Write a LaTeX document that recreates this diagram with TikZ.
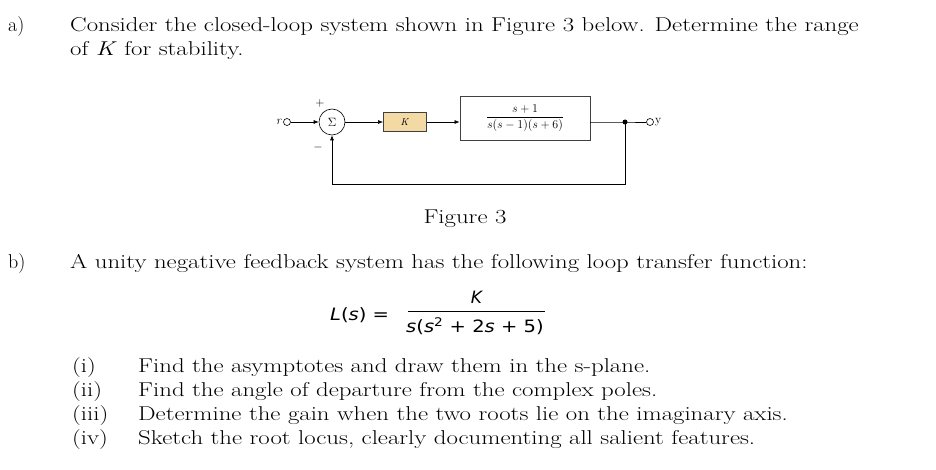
\documentclass[tikz,border=0pt]{standalone}
\usepackage{amsmath}
\usepackage{graphicx}
\usepackage{fontspec}
\newfontfamily\eqf{DejaVu Sans}
\usetikzlibrary{arrows.meta}
\definecolor{kfill}{HTML}{F3D9A4}
\newcommand{\wide}[1]{\scalebox{1.24}[1]{#1}}
\tikzset{
  txt/.style={anchor=base west,inner sep=0pt,font=\fontsize{20}{24}\selectfont},
  blk/.style={draw=black!75,line width=0.9pt},
  sig/.style={line width=0.6pt,-{Latex[length=5pt,width=4pt]}},
  ln/.style={line width=0.6pt},
  sm/.style={font=\fontsize{12}{14}\selectfont,inner sep=1pt}
}
\begin{document}
\begin{tikzpicture}[x=1pt,y=-1pt]
\useasboundingbox[fill=white] (0,0) rectangle (936,470);
\node[txt] (la) at (8,32) {a)};
\node[txt] (l1) at (70,32) {\wide{Consider the closed-loop system shown in Figure 3 below. Determine the range}};
\node[txt] (l2) at (70,56) {\wide{of \textit{K} for stability.}};
% block diagram
\node[draw,circle,inner sep=0pt,minimum size=7pt,ln] (r) at (287,122) {};
\node[sm,anchor=east] (rl) at (r.west) {\textit{r}};
\node[draw,circle,inner sep=0pt,minimum size=26pt,ln] (sum) at (332,122) {\large$\Sigma$};
\node[blk,fill=kfill,minimum width=43pt,minimum height=19pt,inner sep=0pt] (k) at (405,122) {\textit{K}};
\node[blk,minimum width=130pt,minimum height=44pt,inner sep=0pt] (g) at (525,118)
  {\fontsize{12}{14}\selectfont$\dfrac{s+1}{s(s-1)(s+6)}$};
\coordinate (j) at (625,122);
\fill (j) circle (2.5pt);
\node[draw,circle,inner sep=0pt,minimum size=7pt,ln] (y) at (650,122) {};
\node[sm,anchor=west] (yl) at (y.east) {y};
\node[sm] (plus) at (320,104) {$+$};
\node[sm] (minus) at (318,148) {$-$};
\draw[sig] (r) -- (sum);
\draw[sig] (sum) -- (k);
\draw[sig] (k) -- (g.west |- k);
\draw[ln] (g.east |- j) -- (j) -- (y);
\draw[sig] (j) -- (625,184) -| (sum.south);
\node[txt,anchor=base] (fig) at (465,224) {\wide{Figure 3}};
% part b
\node[txt] (lb) at (8,268) {b)};
\node[txt] (b1) at (70,268) {\wide{A unity negative feedback system has the following loop transfer function:}};
\node[font=\eqf\fontsize{17}{20}\selectfont,anchor=base west,inner sep=0pt] (ls) at (330,320) {\scalebox{1.15}[1]{\textit{L}(\textit{s}) =}};
\node[font=\eqf\fontsize{17}{20}\selectfont,inner sep=0pt] (num) at (477,297) {\textit{K}};
\node[font=\eqf\fontsize{17}{20}\selectfont,inner sep=0pt] (den) at (475,326) {\scalebox{1.15}[1]{\textit{s}(\textit{s}\textsuperscript{2} + 2\textit{s} + 5)}};
\draw[line width=0.7pt] (408,311) -- (545,311);
\node[txt] (i1) at (72,372) {\wide{(i)}};
\node[txt] (t1) at (138,372) {\wide{Find the asymptotes and draw them in the s-plane.}};
\node[txt] (i2) at (72,396) {\wide{(ii)}};
\node[txt] (t2) at (138,396) {\wide{Find the angle of departure from the complex poles.}};
\node[txt] (i3) at (72,420) {\wide{(iii)}};
\node[txt] (t3) at (138,420) {\wide{Determine the gain when the two roots lie on the imaginary axis.}};
\node[txt] (i4) at (72,444) {\wide{(iv)}};
\node[txt] (t4) at (138,444) {\wide{Sketch the root locus, clearly documenting all salient features.}};
\end{tikzpicture}
\end{document}
